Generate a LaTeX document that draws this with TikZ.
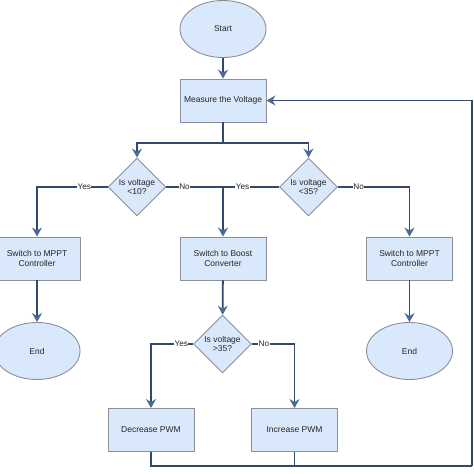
\documentclass[tikz,border=0pt]{standalone}
\usepackage{fontspec}
\setmainfont{Liberation Sans}
\usetikzlibrary{shapes.geometric,arrows.meta}
\definecolor{fillb}{HTML}{DAE8FC}
\definecolor{edgeg}{HTML}{8A8F99}
\definecolor{linec}{HTML}{34496A}
\definecolor{tipc}{HTML}{4A6A98}
\begin{document}
\begin{tikzpicture}[x=1pt,y=-1pt,
  every node/.style={font=\fontsize{8.5}{9.8}\selectfont, text=black!85},
  proc/.style={draw=edgeg, fill=fillb, line width=0.9pt, minimum width=86pt, minimum height=43pt, align=center, inner sep=1pt},
  term/.style={draw=edgeg, fill=fillb, line width=0.9pt, ellipse, minimum width=86pt, minimum height=57pt, inner sep=0pt},
  dec/.style={draw=edgeg, fill=fillb, line width=0.9pt, diamond, minimum width=58pt, minimum height=58pt, inner sep=0pt, align=center},
  conn/.style={draw=linec, line width=1.8pt},
  arr/.style={conn, -{Stealth[length=9pt,width=10pt,inset=3pt,fill=tipc,color=tipc]}},
  lbl/.style={fill=white, inner sep=0.5pt, font=\fontsize{8.2}{9}\selectfont}
]
\useasboundingbox (0,0) rectangle (474,474);
\node[term] (start) at (223,29) {Start};
\node[proc] (meas) at (223,100.5) {Measure the Voltage};
\node[dec] (d1) at (137,187) {Is voltage\\<10?};
\node[dec] (d2) at (308.5,187) {Is voltage\\<35?};
\node[proc] (m1) at (37,258.5) {Switch to MPPT\\Controller};
\node[proc] (boost) at (223,258.5) {Switch to Boost\\Converter};
\node[proc] (m2) at (409.5,258.5) {Switch to MPPT\\Controller};
\node[term] (e1) at (37,351) {End};
\node[term] (e2) at (409.5,351) {End};
\node[dec] (d3) at (222.5,344) {Is voltage\\>35?};
\node[proc] (decp) at (151,430) {Decrease PWM};
\node[proc] (incp) at (294.5,430) {Increase PWM};
\coordinate (split) at (223,143);
\coordinate (j1) at (223,187);
\coordinate (br) at (472,466);
\coordinate (tr) at (472,100.5);

\draw[arr] (start) -- (meas);
\draw[conn] (meas.south) -- (split);
\draw[arr] (split) -| (d1.north);
\draw[arr] (split) -| (d2.north);
\draw[arr] (d1.west) -- node[lbl, pos=0.33]{Yes} (m1.north |- d1.west) -- (m1.north);
\draw[conn] (d1.east) -- node[lbl, pos=0.32]{No} (j1);
\draw[conn] (d2.west) -- node[lbl, pos=0.65]{Yes} (j1);
\draw[arr] (j1) -- (boost.north);
\draw[arr] (d2.east) -- node[lbl, pos=0.29]{No} (m2.north |- d2.east) -- (m2.north);
\draw[arr] (m1) -- (e1);
\draw[arr] (m2) -- (e2);
\draw[arr] (boost) -- (d3);
\draw[arr] (d3.west) -- node[lbl, pos=0.28]{Yes} (decp.north |- d3.west) -- (decp.north);
\draw[arr] (d3.east) -- node[lbl, pos=0.28]{No} (incp.north |- d3.east) -- (incp.north);
\draw[conn] (decp.south) |- (br);
\draw[conn] (incp.south) -- (incp.south |- br);
\draw[arr] (br) -- (tr) -- (meas.east);
\end{tikzpicture}
\end{document}
